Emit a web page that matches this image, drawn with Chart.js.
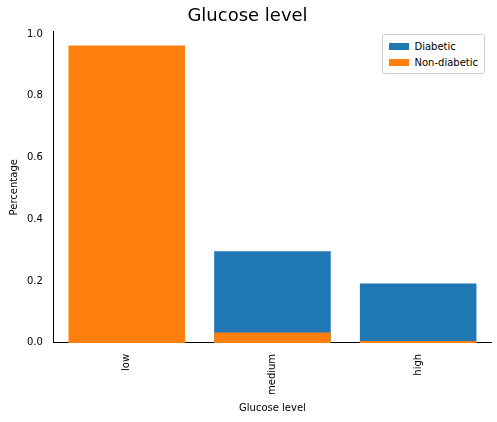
<!DOCTYPE html>
<html><head><meta charset="utf-8">
<script src="https://cdn.jsdelivr.net/npm/chart.js@4"></script>
<style>
body{margin:0;background:#fff;font-family:"DejaVu Sans",sans-serif;}
#wrap{position:relative;width:497px;height:422px;}
#legend{position:absolute;right:12px;top:34px;border:1px solid #ccc;border-radius:3px;padding:3px 6px;font-size:10px;background:#fff;}
#legend div{display:flex;align-items:center;height:16px;}
#legend span{display:inline-block;width:20px;height:7px;margin-right:6px;}
</style></head><body>
<div id="wrap"><canvas id="c" width="497" height="422"></canvas>
<div id="legend"><div><span style="background:#1f77b4"></span>Diabetic</div><div><span style="background:#ff7f0e"></span>Non-diabetic</div></div></div>
<script>
const categories=["low","medium","high"];
const diabetic=[0.0,0.297,0.192];
const nonDiabetic=[0.963,0.034,0.006];
const yTicks=[0,0.2,0.4,0.6,0.8,1.0];
new Chart(document.getElementById('c'),{
type:'bar',
data:{labels:categories,datasets:[
{label:'Diabetic',data:diabetic,backgroundColor:'#1f77b4',order:2,categoryPercentage:0.8,barPercentage:1,grouped:false},
{label:'Non-diabetic',data:nonDiabetic,backgroundColor:'#ff7f0e',order:1,categoryPercentage:0.8,barPercentage:1,grouped:false}]},
options:{responsive:false,animation:false,
layout:{padding:{left:4,right:6,top:0,bottom:4}},
plugins:{legend:{display:false},tooltip:{enabled:false},
title:{display:true,text:'Glucose level',color:'#000',font:{size:18,weight:'normal',family:'DejaVu Sans'},padding:{top:6,bottom:4}}},
scales:{
x:{grid:{display:false,drawTicks:true},border:{color:'#000'},
ticks:{color:'#000',maxRotation:90,minRotation:90,font:{size:10,family:'DejaVu Sans'}},
title:{display:true,text:'Glucose level',color:'#000',font:{size:10,family:'DejaVu Sans'}}},
y:{min:0,max:1.008,afterBuildTicks:a=>{a.ticks=yTicks.map(v=>({value:v}));},
grid:{display:false},border:{color:'#000'},
ticks:{color:'#000',font:{size:10,family:'DejaVu Sans'},callback:v=>v.toFixed(1)},
title:{display:true,text:'Percentage',color:'#000',font:{size:10,family:'DejaVu Sans'}}}}}
});
</script></body></html>
